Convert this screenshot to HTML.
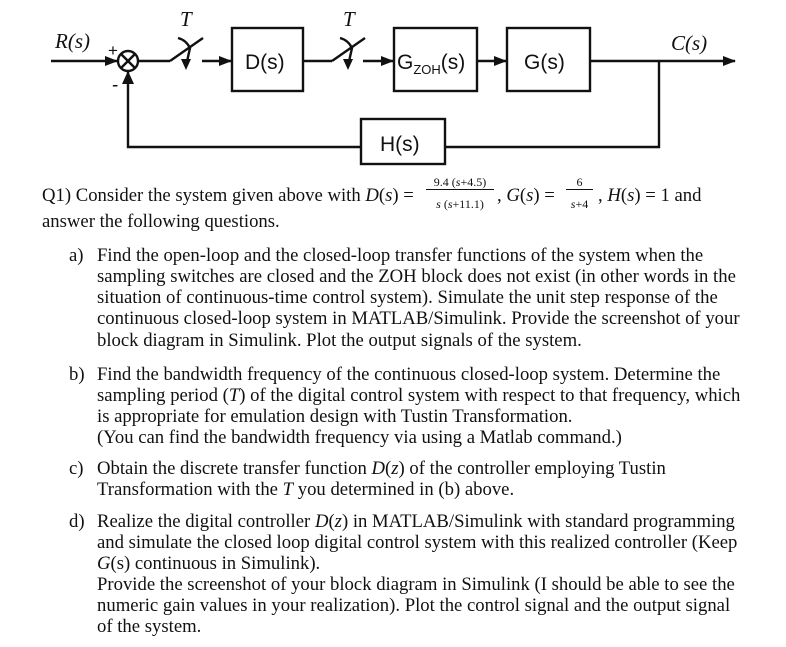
<!DOCTYPE html>
<html><head><meta charset="utf-8"><style>
body{margin:0;width:786px;height:647px;background:#fff;position:relative;overflow:hidden;font-family:"Liberation Serif",serif;color:#111}
.l{position:absolute;white-space:nowrap;font-size:18.7px;line-height:21px}
.m{font-style:italic}
svg{position:absolute;left:0;top:0}
</style></head><body>
<svg width="786" height="180" viewBox="0 0 786 180">
<defs><marker id="a" markerWidth="13" markerHeight="10" refX="12" refY="5" orient="auto" markerUnits="userSpaceOnUse"><path d="M0,0 L13,5 L0,10 z" fill="#111"/></marker></defs>
<g stroke="#111" stroke-width="2.4" fill="none">
<line x1="51" y1="61" x2="117" y2="61" marker-end="url(#a)"/>
<circle cx="128" cy="61" r="10" fill="#fff"/>
<line x1="121" y1="54" x2="135" y2="68"/><line x1="135" y1="54" x2="121" y2="68"/>
<line x1="138" y1="61" x2="170" y2="61"/><line x1="170" y1="61" x2="203" y2="38"/>
<path d="M178,38 Q186,40 190,48 L186,66"/>
<line x1="202" y1="61" x2="231" y2="61" marker-end="url(#a)"/>
<rect x="232" y="28" width="71" height="63"/>
<line x1="303" y1="61" x2="332" y2="61"/><line x1="332" y1="61" x2="365" y2="38"/>
<path d="M340,38 Q348,40 352,48 L348,66"/>
<line x1="363" y1="61" x2="393" y2="61" marker-end="url(#a)"/>
<rect x="394" y="28" width="83" height="63"/>
<line x1="477" y1="61" x2="506" y2="61" marker-end="url(#a)"/>
<rect x="507" y="28" width="83" height="63"/>
<line x1="590" y1="61" x2="735" y2="61" marker-end="url(#a)"/>
<polyline points="659,61 659,147 445,147"/>
<rect x="361" y="119" width="84" height="45"/>
<polyline points="361,147 128,147 128,72"/>
</g>
<path d="M128,71 L122,84 L134,84 z" fill="#111"/>
<path d="M186,70 L181,59 L191,59 z" fill="#111"/><path d="M348,70 L343,59 L353,59 z" fill="#111"/>
<g font-family="Liberation Sans,sans-serif" font-size="21" fill="#111">
<text x="245" y="69">D(s)</text>
<text x="397" y="69">G<tspan font-size="13" dy="5">ZOH</tspan><tspan dy="-5">(s)</tspan></text>
<text x="524" y="69">G(s)</text>
<text x="380" y="151">H(s)</text>
<text x="108" y="56" font-size="17">+</text>
<text x="112" y="91" font-size="19">-</text>
</g>
<g font-family="Liberation Serif,serif" font-style="italic" font-size="21" fill="#111">
<text x="55" y="48">R(s)</text>
<text x="671" y="50">C(s)</text>
<text x="180" y="26">T</text>
<text x="343" y="26">T</text>
</g>
</svg>
<div class="l" style="left:42px;top:185px">Q1) Consider the system given above with <span class="m">D</span>(<span class="m">s</span>) =</div>
<div class="l" style="left:426px;top:176px;font-size:12px;line-height:13px;width:68px;text-align:center;border-bottom:1px solid #111">9.4 (<i>s</i>+4.5)</div>
<div class="l" style="left:426px;top:198px;font-size:12px;line-height:13px;width:68px;text-align:center"><i>s</i> (<i>s</i>+11.1)</div>
<div class="l" style="left:497px;top:185px">, <span class="m">G</span>(<span class="m">s</span>) =</div>
<div class="l" style="left:566px;top:176px;font-size:12px;line-height:13px;width:27px;text-align:center;border-bottom:1px solid #111">6</div>
<div class="l" style="left:566px;top:198px;font-size:12px;line-height:13px;width:27px;text-align:center"><i>s</i>+4</div>
<div class="l" style="left:598px;top:185px">, <span class="m">H</span>(<span class="m">s</span>) = 1 and</div>
<div class="l" style="left:42px;top:211px">answer the following questions.</div>

<div class="l" style="left:69px;top:245px">a)</div>
<div class="l" style="left:97px;top:245px">Find the open-loop and the closed-loop transfer functions of the system when the</div>
<div class="l" style="left:97px;top:266px">sampling switches are closed and the ZOH block does not exist (in other words in the</div>
<div class="l" style="left:97px;top:287px">situation of continuous-time control system). Simulate the unit step response of the</div>
<div class="l" style="left:97px;top:308px">continuous closed-loop system in MATLAB/Simulink. Provide the screenshot of your</div>
<div class="l" style="left:97px;top:330px">block diagram in Simulink. Plot the output signals of the system.</div>

<div class="l" style="left:69px;top:364px">b)</div>
<div class="l" style="left:97px;top:364px">Find the bandwidth frequency of the continuous closed-loop system. Determine the</div>
<div class="l" style="left:97px;top:385px">sampling period (<i>T</i>) of the digital control system with respect to that frequency, which</div>
<div class="l" style="left:97px;top:406px">is appropriate for emulation design with Tustin Transformation.</div>
<div class="l" style="left:97px;top:427px">(You can find the bandwidth frequency via using a Matlab command.)</div>

<div class="l" style="left:69px;top:458px">c)</div>
<div class="l" style="left:97px;top:458px">Obtain the discrete transfer function <i>D</i>(<i>z</i>) of the controller employing Tustin</div>
<div class="l" style="left:97px;top:479px">Transformation with the <i>T</i> you determined in (b) above.</div>

<div class="l" style="left:69px;top:511px">d)</div>
<div class="l" style="left:97px;top:511px">Realize the digital controller <i>D</i>(<i>z</i>) in MATLAB/Simulink with standard programming</div>
<div class="l" style="left:97px;top:532px">and simulate the closed loop digital control system with this realized controller (Keep</div>
<div class="l" style="left:97px;top:553px"><i>G</i>(s) continuous in Simulink).</div>
<div class="l" style="left:97px;top:574px">Provide the screenshot of your block diagram in Simulink (I should be able to see the</div>
<div class="l" style="left:97px;top:595px">numeric gain values in your realization). Plot the control signal and the output signal</div>
<div class="l" style="left:97px;top:616px">of the system.</div>
</body></html>
